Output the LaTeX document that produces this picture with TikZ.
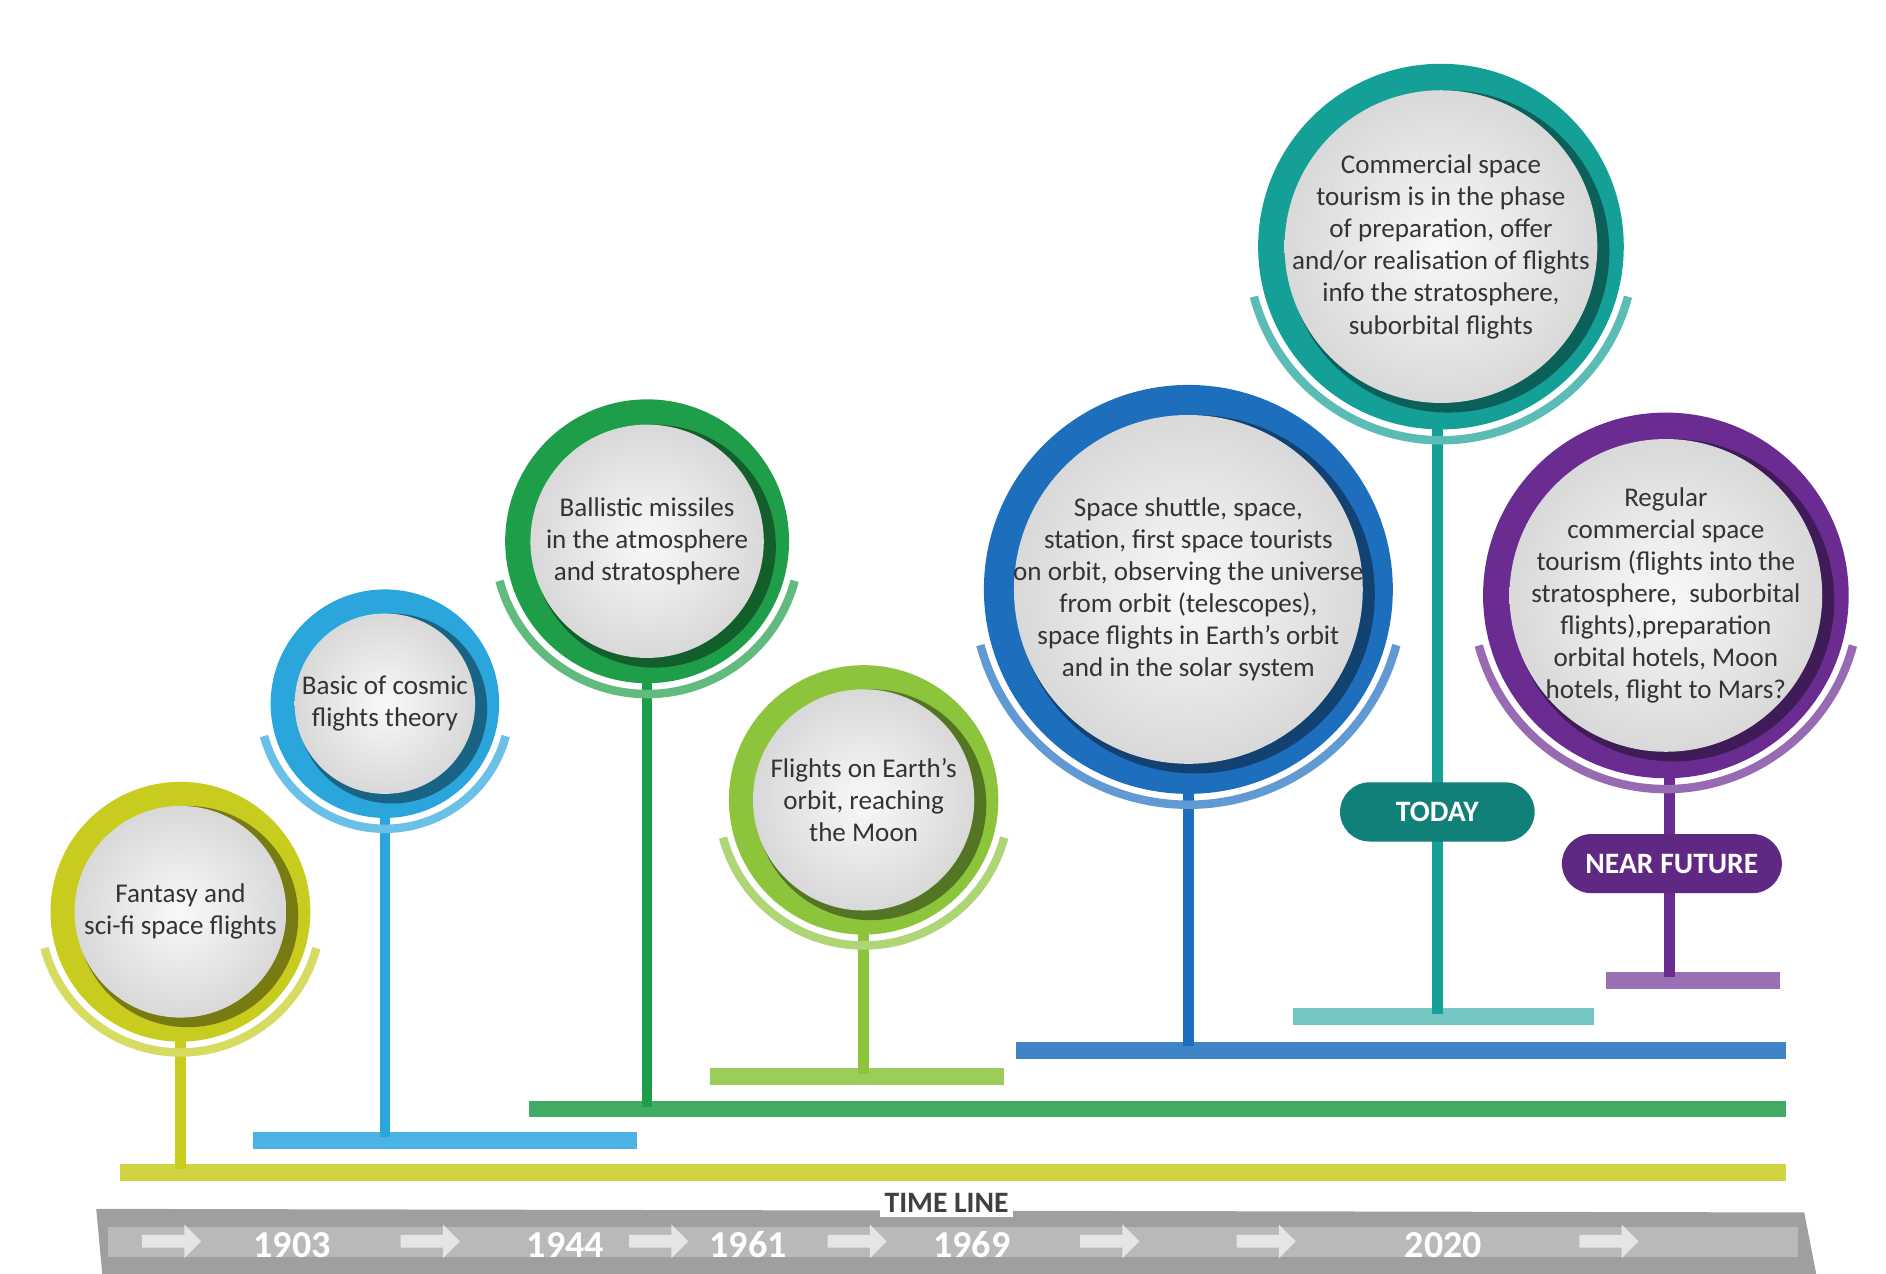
\documentclass[tikz,border=0pt]{standalone}
\usepackage{fontspec}
\setmainfont{Carlito}
\usetikzlibrary{shapes.arrows}
\definecolor{cy}{HTML}{C8CC1E}
\definecolor{clb}{HTML}{2AA6DC}
\definecolor{cg}{HTML}{1E9E48}
\definecolor{clg}{HTML}{8CC43C}
\definecolor{cb}{HTML}{1E6EBE}
\definecolor{ct}{HTML}{14A096}
\definecolor{cp}{HTML}{6A2C91}
\tikzset{
 stem/.style={line width=2.5pt},
 bar/.style={line width=4pt, opacity=0.85},
 inner/.style={inner color=gray!5, outer color=gray!30, draw=none},
 txt/.style={align=center, font=\fontsize{6.4}{7.6}\selectfont, text=black!80},
 pill/.style={rounded corners=7pt, minimum height=14pt, text=white, font=\bfseries\fontsize{7}{8}\selectfont},
 year/.style={font=\bfseries\fontsize{9}{10}\selectfont, text=white},
 garrow/.style={single arrow, fill=gray!20, minimum height=14pt, minimum width=8pt, single arrow head extend=2pt, inner sep=1pt},
}
\newcommand{\bubble}[7]{% x y R r color name text
 \draw[#5!70, line width=2pt] (#1,#2) ++(15:#3+9) arc (15:165:#3+9);
 \fill[#5] (#1,#2) circle (#3);
 \fill[#5!60!black] (#1+6,#2+4) circle (#4+4);
 \shade[inner] (#1,#2) circle (#4);
 \node[txt] (#6) at (#1,#2) {#7};
}
\begin{document}
\begin{tikzpicture}[x=0.01cm,y=-0.01cm]
\useasboundingbox (0,0) rectangle (1568,1059);
% timeline band
\fill[gray!75] (80,1005) -- (1500,1008) -- (1510,1059) -- (85,1059) -- cycle;
\fill[gray!55] (90,1020) rectangle (1495,1045);
\foreach \x in {140,355,545,710,920,1050,1335} \node[garrow] at (\x,1032) {};
\node[font=\bfseries\fontsize{7}{8}\selectfont, text=black!75, fill=white, inner sep=1pt] (tl) at (787,1000) {TIME LINE};
\node[year] (y1) at (243,1035) {1903};
\node[year] (y2) at (470,1035) {1944};
\node[year] (y3) at (622,1035) {1961};
\node[year] (y4) at (808,1035) {1969};
\node[year] (y5) at (1200,1035) {2020};
% bars
\draw[bar, cy] (100,975) -- (1485,975);
\draw[bar, clb] (210,948) -- (530,948);
\draw[bar, cg] (440,922) -- (1485,922);
\draw[bar, clg] (590,895) -- (835,895);
\draw[bar, cb] (845,873) -- (1485,873);
\draw[bar, ct!70] (1075,845) -- (1325,845);
\draw[bar, cp!80] (1335,815) -- (1480,815);
% stems
\coordinate (s1) at (150,972); \coordinate (s2) at (320,945);
\coordinate (s3) at (538,920); \coordinate (s4) at (718,893);
\coordinate (s5) at (988,870); \coordinate (s6) at (1195,843);
\coordinate (s7) at (1388,812);
\draw[stem, cy] (150,840) -- (s1);
\draw[stem, clb] (320,660) -- (s2);
\draw[stem, cg] (538,550) -- (s3);
\draw[stem, clg] (718,760) -- (s4);
\draw[stem, cb] (988,640) -- (s5);
\draw[stem, ct] (1195,330) -- (s6);
\draw[stem, cp] (1388,620) -- (s7);
% bubbles
\bubble{150}{758}{108}{88}{cy}{b1}{Fantasy and\\sci-fi space flights}
\bubble{320}{585}{95}{75}{clb}{b2}{Basic of cosmic\\flights theory}
\bubble{538}{450}{118}{97}{cg}{b3}{Ballistic missiles\\in the atmosphere\\and stratosphere}
\bubble{718}{665}{112}{92}{clg}{b4}{Flights on Earth's\\orbit, reaching\\the Moon}
\bubble{988}{490}{170}{145}{cb}{b5}{Space shuttle, space,\\station, first space tourists\\on orbit, observing the universe\\from orbit (telescopes),\\space flights in Earth's orbit\\and in the solar system}
\bubble{1198}{205}{152}{130}{ct}{b6}{Commercial space\\tourism is in the phase\\of preparation, offer\\and/or realisation of flights\\info the stratosphere,\\suborbital flights}
\bubble{1385}{495}{152}{130}{cp}{b7}{Regular\\commercial space\\tourism (flights into the\\stratosphere,\ \ suborbital\\flights),preparation\\orbital hotels, Moon\\hotels, flight to Mars?}
% pills
\node[pill, fill=ct!80!black, minimum width=46pt] (today) at (1195,675) {TODAY};
\node[pill, fill=cp!90!black, minimum width=52pt] (nf) at (1390,718) {NEAR FUTURE};
\end{tikzpicture}
\end{document}
